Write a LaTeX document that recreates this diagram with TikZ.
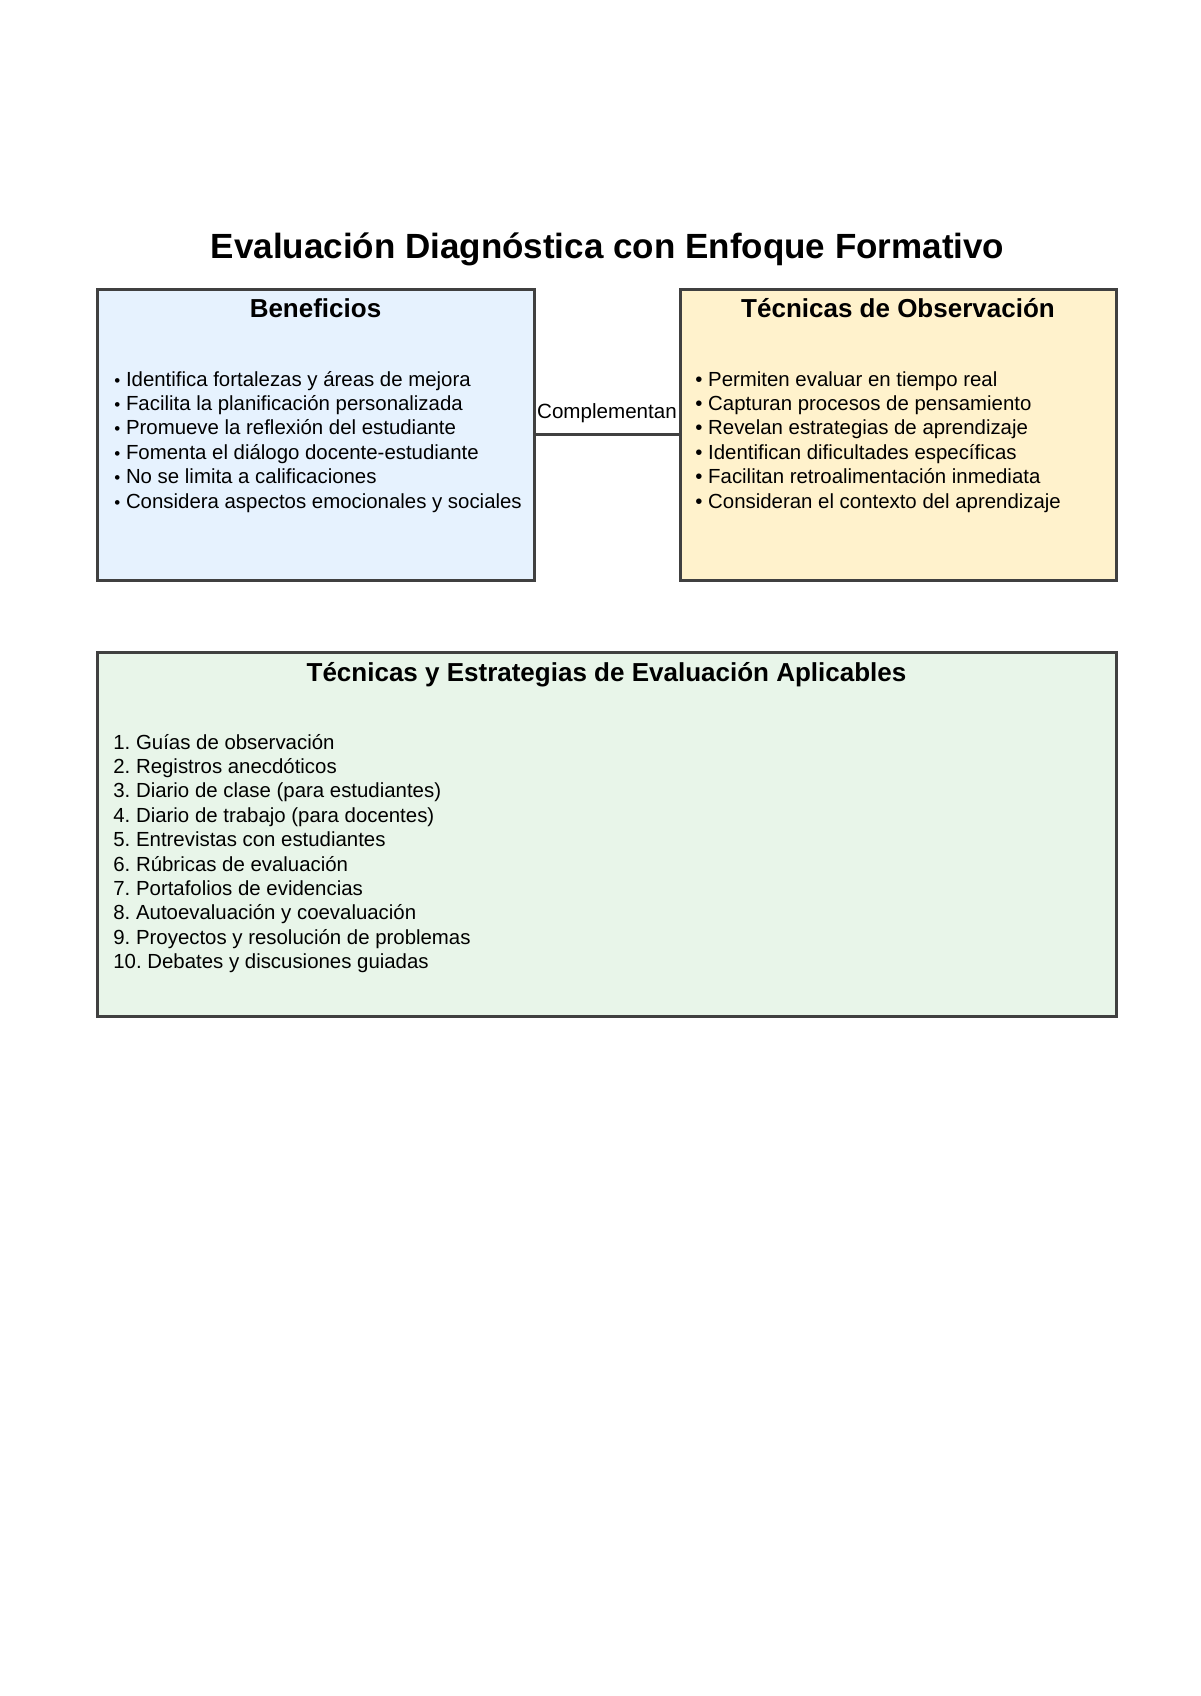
\documentclass[tikz,border=0pt]{standalone}
\usepackage{fontspec}
\setmainfont{Liberation Sans}
\definecolor{bordc}{HTML}{404040}
\definecolor{blueF}{HTML}{E6F2FE}
\definecolor{yelF}{HTML}{FFF2CC}
\definecolor{greF}{HTML}{E8F5E9}
\frenchspacing
\begin{document}
\begin{tikzpicture}[x=0.5pt,y=-0.5pt,
  box/.style={draw=bordc,line width=1.5pt,inner sep=0pt,outer sep=0pt,anchor=north west},
  head/.style={font=\bfseries\fontsize{13}{15}\selectfont,anchor=base,inner sep=0pt},
  item/.style={font=\fontsize{10.2}{12}\selectfont,anchor=base west,inner sep=0pt},
  lbl/.style={font=\fontsize{10.3}{12}\selectfont,anchor=base,inner sep=0pt}]
\useasboundingbox[fill=white] (0,0) rectangle (1200,1696);
\node[font=\bfseries\fontsize{17.5}{21}\selectfont,anchor=base,inner sep=0pt] (title) at (607.5,258) {Evaluación Diagnóstica con Enfoque Formativo};
\node[box,fill=blueF,minimum width=218.5pt,minimum height=145.5pt] (ben) at (97,289) {};
\node[box,fill=yelF,minimum width=218pt,minimum height=145.5pt] (obs) at (680,289) {};
\node[box,fill=greF,minimum width=509.5pt,minimum height=182pt] (tec) at (97,652) {};
\node[head] (benh) at (315.5,317) {Beneficios};
\node[head] (obsh) at (898,317) {Técnicas de Observación};
\node[head] (tech) at (606.5,681) {Técnicas y Estrategias de Evaluación Aplicables};
\foreach \t [count=\i] in {Identifica fortalezas y áreas de mejora,Facilita la planificación personalizada,Promueve la reflexión del estudiante,Fomenta el diálogo docente-estudiante,No se limita a calificaciones,Considera aspectos emocionales y sociales}
  \node[item] (b\i) at (114,{386+24.4*(\i-1)}) {{\fontsize{8.5}{10}\selectfont•} \t};
\foreach \t [count=\i] in {Permiten evaluar en tiempo real,Capturan procesos de pensamiento,Revelan estrategias de aprendizaje,Identifican dificultades específicas,Facilitan retroalimentación inmediata,Consideran el contexto del aprendizaje}
  \node[item] (o\i) at (695,{386+24.4*(\i-1)}) {• \t};
\foreach \t [count=\i] in {Guías de observación,Registros anecdóticos,Diario de clase (para estudiantes),Diario de trabajo (para docentes),Entrevistas con estudiantes,Rúbricas de evaluación,Portafolios de evidencias,Autoevaluación y coevaluación,Proyectos y resolución de problemas,Debates y discusiones guiadas}
  \node[item] (t\i) at (113,{749+24.4*(\i-1)}) {\i.\ \t};
\draw[bordc,line width=1.5pt] (ben.east) -- (obs.west);
\node[lbl] (comp) at (607,418) {Complementan};
\end{tikzpicture}
\end{document}
